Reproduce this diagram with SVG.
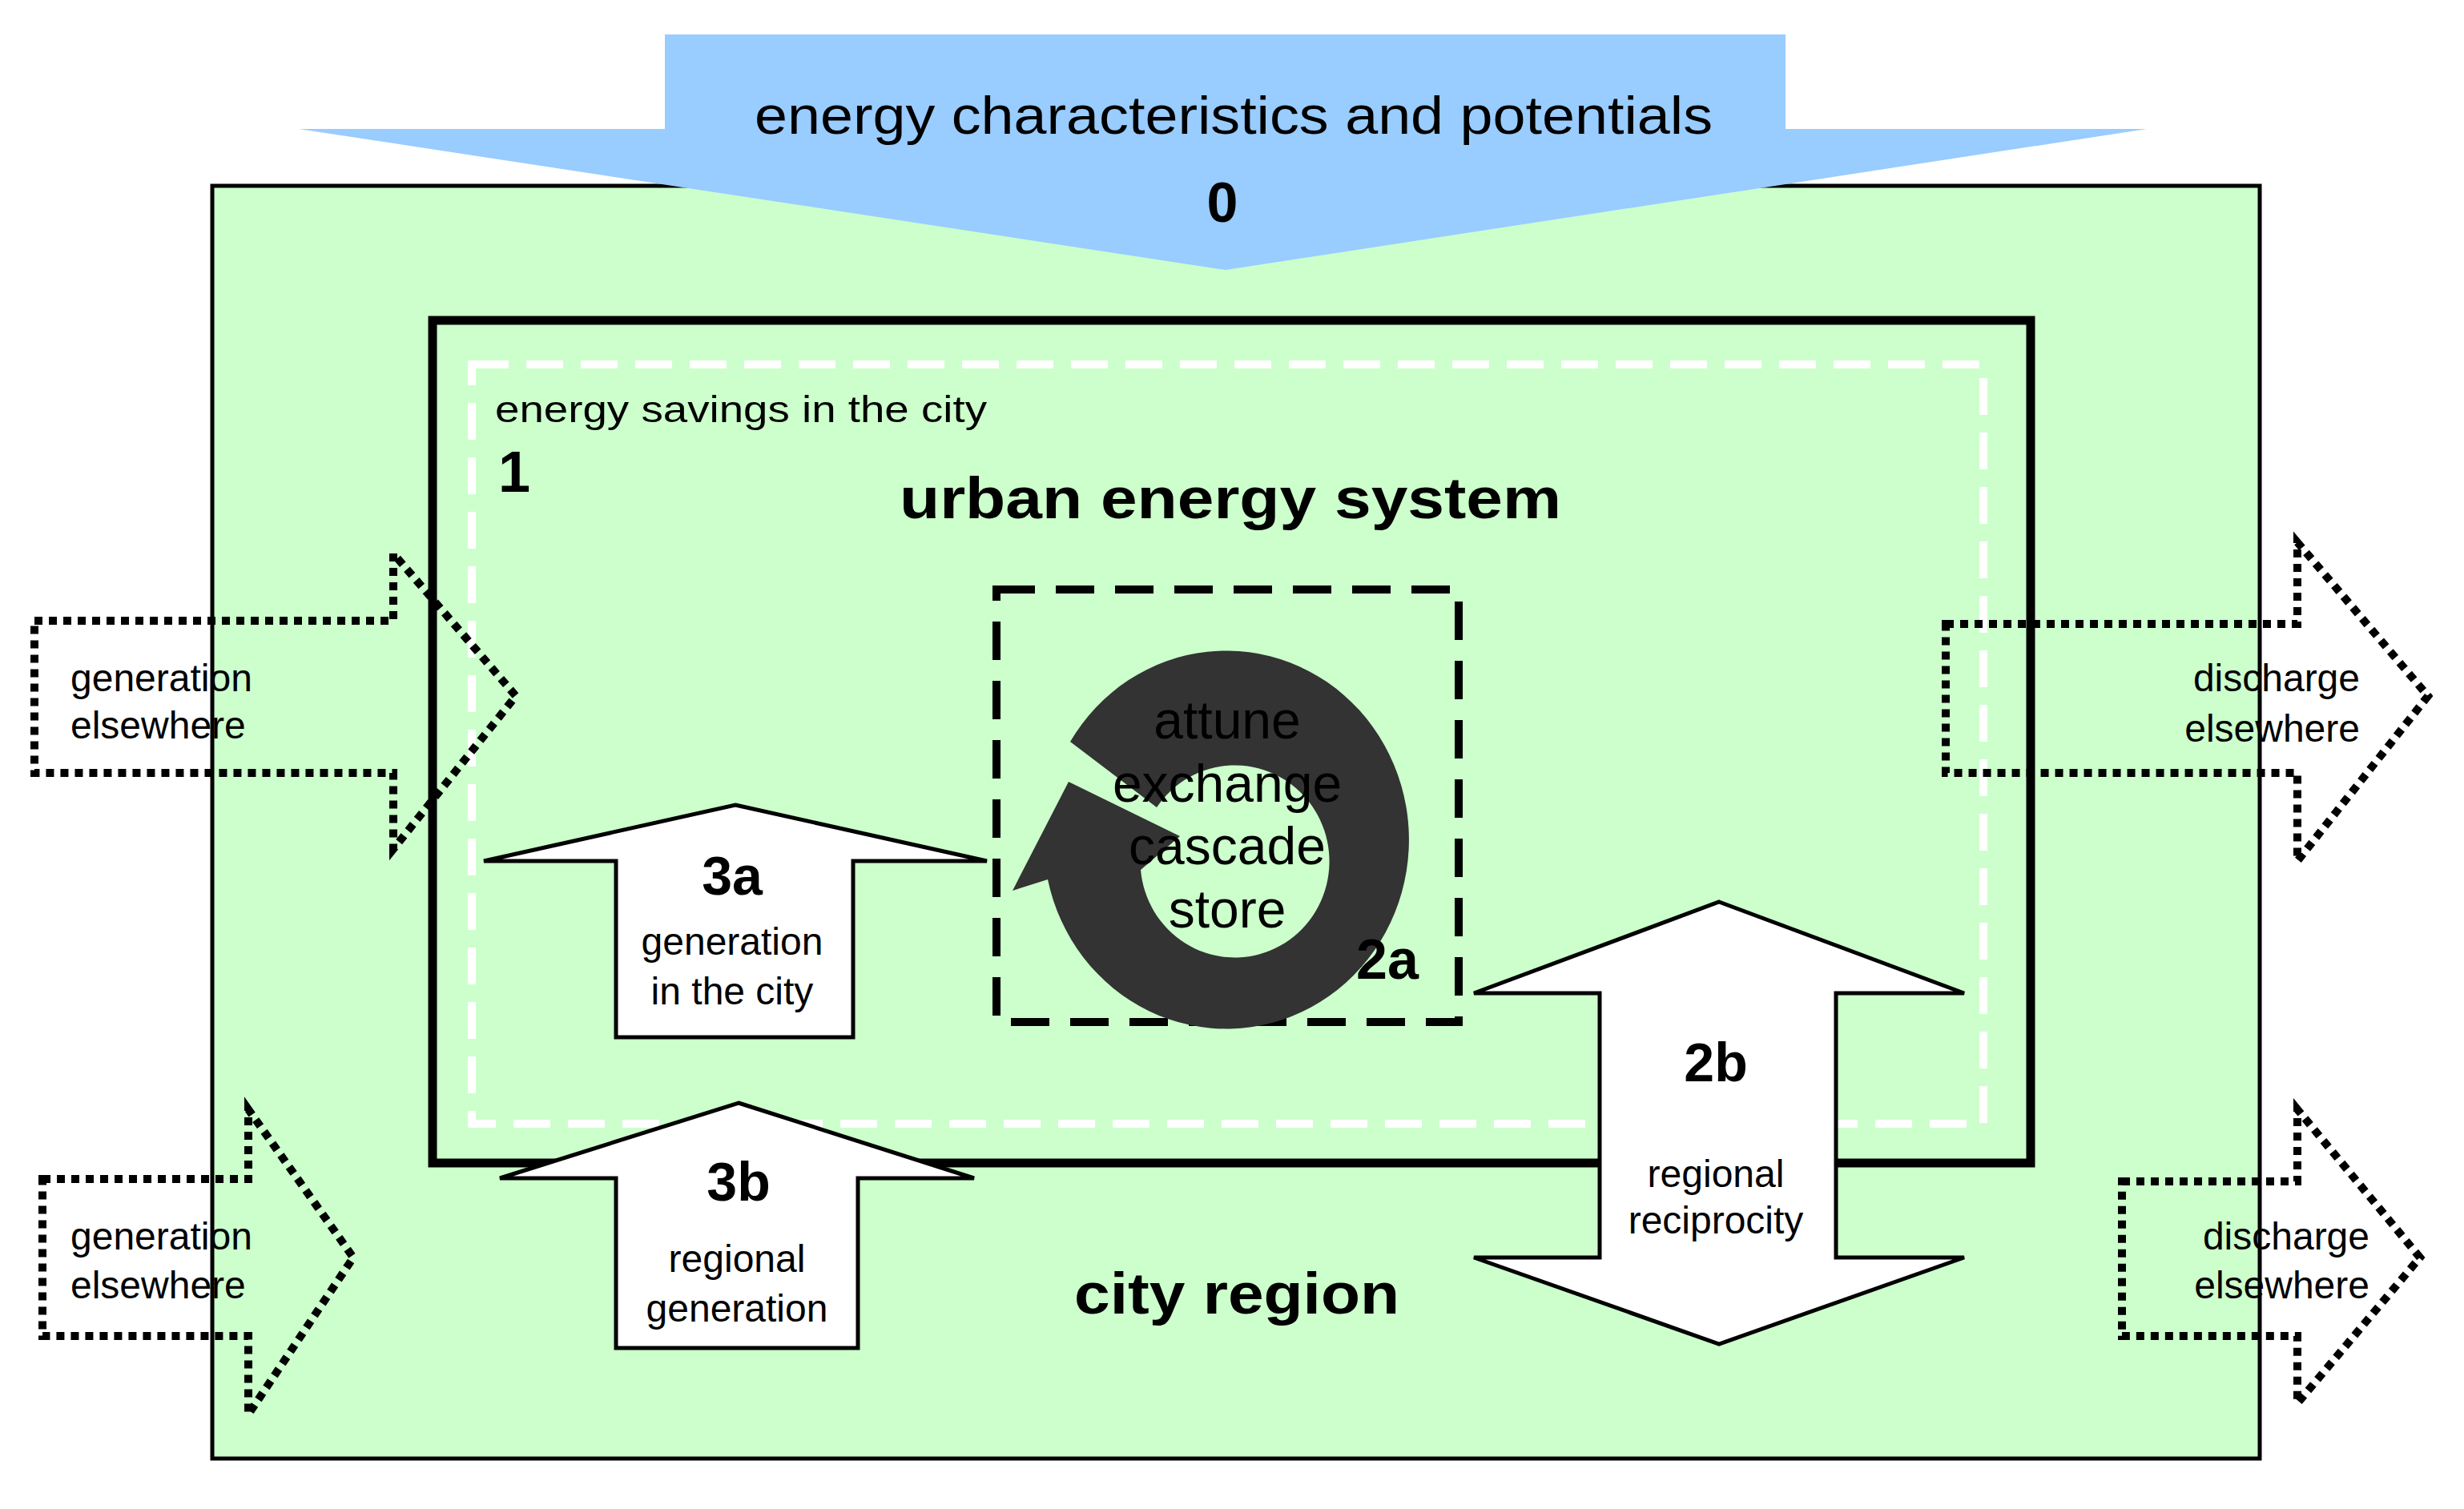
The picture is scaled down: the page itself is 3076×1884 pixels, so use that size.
<svg xmlns="http://www.w3.org/2000/svg" width="3076" height="1884" viewBox="0 0 3076 1884">
<style>
text{font-family:"Liberation Sans",Arial,sans-serif;fill:#000}
.b{font-weight:bold}
.m{text-anchor:middle}
.e{text-anchor:end}
.dot{fill:none;stroke:#000;stroke-width:10;stroke-dasharray:10 8}
.wa{fill:#fff;stroke:#000;stroke-width:5}
</style>
<rect width="3076" height="1884" fill="#fff"/>
<g id="city-region">
<rect x="265" y="232" width="2556" height="1589" fill="#ccffcc" stroke="#000" stroke-width="5"/>
<text class="b m" x="1544" y="1640" font-size="72" textLength="406" lengthAdjust="spacingAndGlyphs">city region</text>
</g>
<g id="potentials">
<polygon points="830,43 2229,43 2229,161 2680,161 1530,337 373,161 830,161" fill="#99ccff"/>
<text class="m" x="1540" y="167" font-size="66" textLength="1196" lengthAdjust="spacingAndGlyphs">energy characteristics and potentials</text>
<text class="b m" x="1526" y="277" font-size="70">0</text>
</g>
<g id="urban-system">
<rect x="540" y="400" width="1995" height="1052" fill="none" stroke="#000" stroke-width="11"/>
<text class="b m" x="1536" y="647" font-size="72" textLength="826" lengthAdjust="spacingAndGlyphs">urban energy system</text>
</g>
<g id="savings">
<rect x="589" y="455" width="1887" height="948" fill="none" stroke="#fff" stroke-width="10" stroke-dasharray="46 22"/>
<text x="618" y="527" font-size="46" textLength="614" lengthAdjust="spacingAndGlyphs">energy savings in the city</text>
<text class="b" x="622" y="614" font-size="72">1</text>
</g>
<g id="cycle">
<rect x="1244" y="736" width="577" height="540" fill="none" stroke="#000" stroke-width="10" stroke-dasharray="48 26"/>
<path transform="translate(0,20)" d="M1336,906 A228,236 0 1 1 1308,1078 L1264,1092 L1334,956 L1473,1024 L1424,1066 A118,120 0 1 0 1444,988 Z" fill="#333"/>
<text class="m" x="1532" y="922" font-size="66">attune</text>
<text class="m" x="1532" y="1001" font-size="66">exchange</text>
<text class="m" x="1532" y="1079" font-size="66">cascade</text>
<text class="m" x="1532" y="1158" font-size="66">store</text>
<text class="b m" x="1732" y="1222" font-size="70">2a</text>
</g>
<g id="gen-city">
<polygon class="wa" points="918,1005 1232,1075 1065,1075 1065,1295 769,1295 769,1075 604,1075"/>
<text class="b m" x="914" y="1117" font-size="68">3a</text>
<text class="m" x="914" y="1192" font-size="48">generation</text>
<text class="m" x="914" y="1254" font-size="48">in the city</text>
</g>
<g id="gen-region">
<polygon class="wa" points="922,1377 1216,1471 1071,1471 1071,1683 769,1683 769,1471 624,1471"/>
<text class="b m" x="922" y="1499" font-size="68">3b</text>
<text class="m" x="920" y="1588" font-size="48">regional</text>
<text class="m" x="920" y="1650" font-size="48">generation</text>
</g>
<g id="reciprocity">
<polygon class="wa" points="2146,1126 2452,1240 2292,1240 2292,1570 2452,1570 2146,1678 1840,1570 1997,1570 1997,1240 1840,1240"/>
<text class="b m" x="2142" y="1350" font-size="68">2b</text>
<text class="m" x="2142" y="1482" font-size="48">regional</text>
<text class="m" x="2142" y="1540" font-size="48">reciprocity</text>
</g>
<g id="connectors">
<polygon class="dot" points="43,775 491,775 491,691 644,869 491,1060 491,965 43,965"/>
<polygon class="dot" points="53,1472 310,1472 310,1385 441,1570 310,1766 310,1668 53,1668"/>
<polygon class="dot" points="2429,779 2868,779 2868,677 3031,869 2868,1075 2868,965 2429,965"/>
<polygon class="dot" points="2649,1475 2868,1475 2868,1385 3021,1570 2868,1752 2868,1668 2649,1668"/>
</g>
<g id="gen-else-1"><text x="88" y="863" font-size="48">generation</text><text x="88" y="922" font-size="48">elsewhere</text></g>
<g id="gen-else-2"><text x="88" y="1560" font-size="48">generation</text><text x="88" y="1621" font-size="48">elsewhere</text></g>
<g id="dis-else-1"><text class="e" x="2946" y="863" font-size="48">discharge</text><text class="e" x="2946" y="926" font-size="48">elsewhere</text></g>
<g id="dis-else-2"><text class="e" x="2958" y="1560" font-size="48">discharge</text><text class="e" x="2958" y="1621" font-size="48">elsewhere</text></g>
</svg>
